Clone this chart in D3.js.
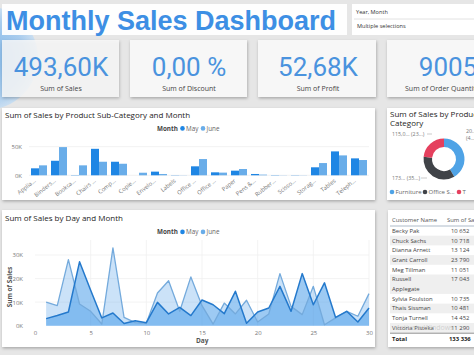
<!DOCTYPE html>
<html><head><meta charset="utf-8">
<script src="https://cdn.jsdelivr.net/npm/d3@7"></script>
<style>body{margin:0;background:#e6e6e6;overflow:hidden}svg{display:block}</style>
</head><body><svg id="c" width="474" height="355"></svg>
<script>
// ---------- DATA ----------
const kpiValues = ["493,60K", "0,00 %", "52,68K", "9005"];
const kpiLabels = ["Sum of Sales", "Sum of Discount", "Sum of Profit", "Sum of Order Quantity"];

const subCategoryLabels = ["Applia...", "Binders...", "Bookca...", "Chairs ...", "Comp...", "Copie...", "Envelo...", "Labels", "Office ...", "Office ...", "Paper", "Pens &...", "Rubber...", "Scisso...", "Storag...", "Tables", "Teleph..."];
const salesMay  = [12.2, 25.4, 0.5, 46.3, 23.7, 0.0, 6.4, 0.4, 15.7, 5.2, 8.1, 2.3, 0.5, 0.4, 14.0, 41.8, 29.6]; // K
const salesJune = [17.4, 49.3, 17.4, 23.7, 20.2, 4.5, 2.3, 0.3, 28.4, 4.7, 11.0, 1.2, 0.3, 0.3, 21.4, 34.8, 26.7]; // K
const barTicks = [0, 50];

const days = [1,2,3,4,5,6,7,8,9,10,11,12,13,14,15,16,17,18,19,20,21,22,23,24,25,26,27,28,29,30];
const dailyMay  = [3.0, 4.3, 5.8, 27.1, 15.0, 3.3, 5.4, 0.9, 2.1, 1.3, 9.9, 5.0, 7.8, 4.3, 10.9, 8.9, 5.1, 14.6, 1.0, 5.8, 7.5, 16.7, 6.1, 22.1, 8.9, 18.2, 3.5, 6.1, 1.6, 7.5];
const dailyJune = [10.0, 8.5, 28.0, 9.2, 6.1, 0.7, 33.0, 3.5, 1.3, 1.0, 13.9, 19.1, 6.1, 20.7, 8.5, 0.7, 9.6, 5.0, 10.8, 1.6, 5.0, 22.1, 8.2, 4.7, 16.7, 0.4, 3.3, 6.1, 4.0, 13.6];
const dayTicks = [0, 5, 10, 15, 20, 25, 30];
const salesTicks = [0, 10, 20, 30];

const categories = ["Furniture", "Office Supplies", "Technology"];
const categorySales = [205.6, 173.0, 115.0];
const categoryLegend = ["Furniture", "Office S...", "T"];

const customers = ["Becky Pak", "Chuck Sachs", "Dianna Arnett", "Grant Carroll", "Meg Tillman", "Russell Applegate", "Sylvia Foulston", "Thais Sissman", "Tonja Turnell", "Victoria Pisteka"];
const customerSales = ["10 652", "10 718", "13 124", "23 790", "11 051", "17 043", "10 735", "10 481", "14 452", "11 290"];
const customerTotal = "133 336";

// ---------- STYLE ----------
const C_MAY = "#1f86e4", C_JUNE = "#69ade9";
const C_FURN = "#4fa3e6", C_OFF = "#404348", C_TECH = "#e5405e";
const FONT = "'Open Sans', 'Noto Sans', sans-serif";

const svg = d3.select("#c");
const defs = svg.append("defs");
const f = defs.append("filter").attr("id", "sh").attr("x", "-10%").attr("y", "-10%").attr("width", "120%").attr("height", "130%");
f.append("feDropShadow").attr("dx", 0.6).attr("dy", 1.4).attr("stdDeviation", 1.4).attr("flood-color", "#000").attr("flood-opacity", 0.28);
const rg = defs.append("radialGradient").attr("id", "blob");
rg.append("stop").attr("offset", "0%").attr("stop-color", "#7fb6e8");
rg.append("stop").attr("offset", "75%").attr("stop-color", "#a8ccee");
rg.append("stop").attr("offset", "100%").attr("stop-color", "#c9def1");

svg.append("rect").attr("width", 474).attr("height", 355).attr("fill", "#e6e6e6");
svg.append("circle").attr("cx", -14).attr("cy", 58).attr("r", 52).attr("fill", "url(#blob)");

function panel(x, y, w, h, fill) {
  return svg.append("rect").attr("x", x).attr("y", y).attr("width", w).attr("height", h)
    .attr("fill", fill || "#fff").attr("filter", "url(#sh)");
}

// ---------- TITLE + SLICER ----------
svg.append("rect").attr("x", 2).attr("y", 4).attr("width", 345).attr("height", 31).attr("fill", "rgba(255,255,255,0.93)");
svg.append("text").attr("x", 6).attr("y", 30).attr("font-family", "'Liberation Sans', Arial, sans-serif")
  .attr("font-weight", "bold").attr("font-size", 27).attr("fill", "#3d8fe4").text("Monthly Sales Dashboard");
svg.append("rect").attr("x", 352).attr("y", 4).attr("width", 130).attr("height", 31).attr("fill", "#fff");
svg.append("text").attr("x", 356).attr("y", 14).attr("font-family", FONT).attr("font-size", 5.6).attr("fill", "#333").text("Year, Month");
svg.append("line").attr("x1", 354).attr("x2", 474).attr("y1", 19).attr("y2", 19).attr("stroke", "#e2e2e2");
svg.append("text").attr("x", 357).attr("y", 28).attr("font-family", FONT).attr("font-size", 5.6).attr("fill", "#333").text("Multiple selections");

// ---------- KPI CARDS ----------
const cardX = [2, 130, 258, 387], cardW = [117, 117, 118, 110], cardC = [61, 189, 318, 448];
kpiValues.forEach((v, i) => {
  panel(cardX[i], 40, cardW[i], 57, i === 0 ? "rgba(249,249,249,0.82)" : "#f7f7f7");
  svg.append("text").attr("x", cardC[i]).attr("y", 76).attr("text-anchor", "middle")
    .attr("font-family", "Roboto, sans-serif").attr("font-size", 26).attr("fill", "#4a93de").text(v);
  svg.append("text").attr("x", i === 3 ? 405 : cardC[i]).attr("y", 91).attr("text-anchor", i === 3 ? "start" : "middle")
    .attr("font-family", FONT).attr("font-size", 7).attr("fill", "#444").text(kpiLabels[i]);
});

// ---------- BAR CHART ----------
panel(2, 108, 373, 92);
svg.append("text").attr("x", 5).attr("y", 118).attr("font-family", FONT).attr("font-size", 8).attr("fill", "#252423")
  .text("Sum of Sales by Product Sub-Category and Month");
function legend(y) {
  const g = svg.append("g").attr("font-family", FONT).attr("font-size", 6.3);
  g.append("text").attr("x", 157).attr("y", y).attr("font-weight", "bold").attr("fill", "#444").text("Month");
  g.append("circle").attr("cx", 182.5).attr("cy", y - 2.1).attr("r", 2.3).attr("fill", C_MAY);
  g.append("text").attr("x", 186).attr("y", y).attr("fill", "#666").text("May");
  g.append("circle").attr("cx", 203).attr("cy", y - 2.1).attr("r", 2.3).attr("fill", C_JUNE);
  g.append("text").attr("x", 206.5).attr("y", y).attr("fill", "#666").text("June");
}
legend(130.5);

const xb = d3.scaleBand().domain(d3.range(subCategoryLabels.length)).range([29, 369]).paddingInner(0.2).paddingOuter(0.1);
const xs = d3.scaleBand().domain(["May", "June"]).range([0, xb.bandwidth()]);
const yb = d3.scaleLinear().domain([0, 50]).range([175.3, 146.7]);
const gb = svg.append("g");
gb.selectAll("line.grid").data(barTicks).join("line").attr("x1", 29).attr("x2", 369)
  .attr("y1", d => yb(d)).attr("y2", d => yb(d)).attr("stroke", "#eeeeee").attr("stroke-width", 0.8);
const yAxisB = gb.append("g").attr("transform", "translate(25,0)")
  .call(d3.axisLeft(yb).tickValues(barTicks).tickSize(0).tickFormat(d => d + "K"));
yAxisB.select(".domain").remove();
yAxisB.selectAll("text").attr("font-family", FONT).attr("font-size", 6).attr("fill", "#777").attr("dx", 0);
const series = [["May", salesMay, C_MAY], ["June", salesJune, C_JUNE]];
series.forEach(([name, vals, col]) => {
  gb.selectAll("rect." + name).data(vals).join("rect")
    .attr("x", (d, i) => xb(i) + xs(name)).attr("width", xs.bandwidth())
    .attr("y", d => yb(d)).attr("height", d => yb(0) - yb(d)).attr("fill", col);
});
const xAxisB = gb.append("g").attr("transform", "translate(0,177)")
  .call(d3.axisBottom(xb).tickSize(0).tickFormat(i => subCategoryLabels[i]));
xAxisB.select(".domain").remove();
xAxisB.selectAll("text").attr("font-family", FONT).attr("font-size", 5.8).attr("fill", "#777")
  .attr("text-anchor", "end").attr("transform", "translate(-4,3) rotate(-38)").attr("y", 0).attr("dy", "0.35em");

// ---------- DONUT ----------
panel(387, 108, 95, 92);
svg.append("text").attr("x", 390).attr("y", 117).attr("font-family", FONT).attr("font-size", 8).attr("fill", "#252423").text("Sum of Sales by Product");
svg.append("text").attr("x", 390).attr("y", 126).attr("font-family", FONT).attr("font-size", 8).attr("fill", "#252423").text("Category");
const pie = d3.pie().sort(null).value(d => d)(categorySales);
const arc = d3.arc().innerRadius(12).outerRadius(20.5);
const gd = svg.append("g").attr("transform", "translate(444,159)");
const colsD = [C_FURN, C_OFF, C_TECH];
gd.selectAll("path").data(pie).join("path").attr("d", arc).attr("fill", (d, i) => colsD[i]);
const dl = svg.append("g").attr("font-family", FONT).attr("font-size", 5.3).attr("fill", "#777");
dl.append("text").attr("x", 392).attr("y", 136).text("115,0... (23...)");
dl.append("line").attr("x1", 427).attr("x2", 432).attr("y1", 134).attr("y2", 134).attr("stroke", "#aaa").attr("stroke-width", 0.6);
dl.append("text").attr("x", 392).attr("y", 180).text("173... (35...)");
dl.append("line").attr("x1", 421).attr("x2", 427).attr("y1", 178).attr("y2", 178).attr("stroke", "#aaa").attr("stroke-width", 0.6);
dl.append("text").attr("x", 466).attr("y", 133).text("20...");
dl.append("text").attr("x", 466).attr("y", 140).text("(4...");
const lg = svg.append("g").attr("font-family", FONT).attr("font-size", 6).attr("fill", "#666");
const legX = [392, 425, 459];
categoryLegend.forEach((c, i) => {
  lg.append("circle").attr("cx", legX[i]).attr("cy", 192).attr("r", 2.3).attr("fill", colsD[i]);
  lg.append("text").attr("x", legX[i] + 3.5).attr("y", 194.2).text(c);
});

// ---------- AREA CHART ----------
panel(2, 210, 373, 137);
svg.append("text").attr("x", 5).attr("y", 221).attr("font-family", FONT).attr("font-size", 8).attr("fill", "#252423").text("Sum of Sales by Day and Month");
legend(234);
const xa = d3.scaleLinear().domain([0, 30]).range([35, 369]);
const ya = d3.scaleLinear().domain([0, 30]).range([325.7, 255]);
const ga = svg.append("g");
ga.selectAll("line.hg").data(salesTicks.slice(1)).join("line").attr("x1", 35).attr("x2", 369)
  .attr("y1", d => ya(d)).attr("y2", d => ya(d)).attr("stroke", "#f0f0f0").attr("stroke-width", 0.8);
ga.selectAll("line.vg").data(dayTicks.slice(1)).join("line").attr("x1", d => xa(d)).attr("x2", d => xa(d))
  .attr("y1", 240).attr("y2", 325.7).attr("stroke", "#f0f0f0").attr("stroke-width", 0.8);
const areaGen = vals => d3.area().x((d, i) => xa(days[i])).y0(ya(0)).y1(d => ya(d))(vals);
const lineGen = vals => d3.line().x((d, i) => xa(days[i])).y(d => ya(d))(vals);
ga.append("path").attr("d", areaGen(dailyJune)).attr("fill", "#6eafeb").attr("fill-opacity", 0.36);
ga.append("path").attr("d", areaGen(dailyMay)).attr("fill", "#3c96e8").attr("fill-opacity", 0.5);
ga.append("path").attr("d", lineGen(dailyJune)).attr("fill", "none").attr("stroke", "#74aadc").attr("stroke-width", 1.3).attr("stroke-linejoin", "round");
ga.append("path").attr("d", lineGen(dailyMay)).attr("fill", "none").attr("stroke", "#2479cc").attr("stroke-width", 1.5).attr("stroke-linejoin", "round");
const yAxisA = ga.append("g").attr("transform", "translate(26,0)")
  .call(d3.axisLeft(ya).tickValues(salesTicks).tickSize(0).tickFormat(d => d + "K"));
yAxisA.select(".domain").remove();
yAxisA.selectAll("text").attr("font-family", FONT).attr("font-size", 6).attr("fill", "#777");
const xAxisA = ga.append("g").attr("transform", "translate(0,328)")
  .call(d3.axisBottom(xa).tickValues(dayTicks).tickSize(0).tickFormat(d3.format("d")));
xAxisA.select(".domain").remove();
xAxisA.selectAll("text").attr("font-family", FONT).attr("font-size", 6).attr("fill", "#777");
svg.append("text").attr("x", 196).attr("y", 343).attr("font-family", FONT).attr("font-size", 6.5).attr("font-weight", "bold").attr("fill", "#555").text("Day");
svg.append("text").attr("transform", "translate(12,287) rotate(-90)").attr("text-anchor", "middle")
  .attr("font-family", FONT).attr("font-size", 6.5).attr("font-weight", "bold").attr("fill", "#555").text("Sum of Sales");

// ---------- TABLE ----------
panel(388, 210, 95, 137);
const tg = svg.append("g").attr("font-family", FONT).attr("font-size", 5.9);
tg.append("text").attr("x", 392).attr("y", 222).attr("fill", "#555").text("Customer Name");
tg.append("text").attr("x", 447).attr("y", 222).attr("fill", "#555").text("Sum of Sales");
tg.append("line").attr("x1", 390).attr("x2", 474).attr("y1", 226).attr("y2", 226).attr("stroke", "#9ab").attr("stroke-width", 0.8);
let ry = 226;
const rh = 9.7;
customers.forEach((c, i) => {
  const two = c === "Russell Applegate";
  const h = two ? rh * 2 : rh;
  if (i % 2 === 1) tg.append("rect").attr("x", 390).attr("y", ry).attr("width", 84).attr("height", h).attr("fill", "#efefef");
  if (two) {
    tg.append("text").attr("x", 392).attr("y", ry + 6.8).attr("fill", "#444").text("Russell");
    tg.append("text").attr("x", 392).attr("y", ry + 6.8 + rh).attr("fill", "#444").text("Applegate");
  } else {
    tg.append("text").attr("x", 392).attr("y", ry + 6.8).attr("fill", "#444").text(c);
  }
  tg.append("text").attr("x", 451).attr("y", ry + 6.8).attr("fill", "#444").text(customerSales[i]);
  ry += h;
});
tg.append("text").attr("x", 396).attr("y", 330).attr("font-size", 7).attr("fill", "#bbb").attr("fill-opacity", 0.6).text("Activate Windows");
tg.append("line").attr("x1", 390).attr("x2", 474).attr("y1", ry + 0.5).attr("y2", ry + 0.5).attr("stroke", "#444").attr("stroke-width", 0.6);
tg.append("text").attr("x", 392).attr("y", ry + 8).attr("font-weight", "bold").attr("fill", "#222").text("Total");
tg.append("text").attr("x", 449).attr("y", ry + 8).attr("font-weight", "bold").attr("fill", "#222").text(customerTotal);
</script></body></html>
